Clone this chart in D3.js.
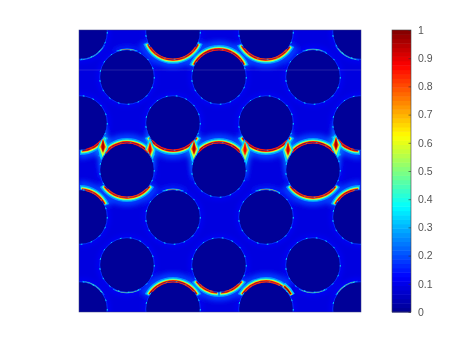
<!DOCTYPE html>
<html>
<head>
<meta charset="utf-8">
<script src="https://cdn.jsdelivr.net/npm/d3@7"></script>
<style>
  html, body { margin: 0; padding: 0; background: #fff; }
  svg { display: block; }
  text { font-family: "Liberation Sans", Arial, sans-serif; }
</style>
</head>
<body>
<div id="chart"></div>
<script>
// holes of the lattice, in field units (0-282 both ways)
let holeX = [1, 48, 94, 140, 187, 234, 281];
let holeY = [2, 47, 93, 140, 187, 235, 279];
let holeRadius = 27;
// which columns sit on each row
let rowCols = [[0, 2, 4, 6], [1, 3, 5], [0, 2, 4, 6], [1, 3, 5], [0, 2, 4, 6], [1, 3, 5], [0, 2, 4, 6]];

// strong arcs: column, row, start deg, end deg, peak (0 = up, clockwise)
let hotArcs = [
  [2, 0, 112, 248, 0.97], [4, 0, 118, 245, 0.97],
  [3, 1, -68, 68, 1],
  [0, 2, 118, 180, 1], [1, 3, -64, 62, 1], [2, 2, 118, 242, 1], [3, 3, -62, 62, 1],
  [4, 2, 118, 242, 1], [5, 3, -62, 62, 1], [6, 2, 180, 244, 1],
  [0, 4, 0, 66, 0.98], [1, 3, 122, 238, 0.97], [5, 3, 122, 238, 0.97], [6, 4, -66, 0, 0.98],
  [3, 5, 122, 180, 0.97], [3, 5, 180, 238, 0.97], [2, 6, -62, 62, 0.98], [4, 6, -62, 42, 0.98]
];
// weak, broken arcs along the hole rim
let weakArcs = [
  [0, 0, 118, 180, 0.5], [1, 1, -22, 22, 0.72], [5, 1, -22, 28, 0.55], [6, 0, 182, 240, 0.5],
  [2, 4, -22, 22, 0.72], [4, 4, -22, 30, 0.72], [0, 6, 5, 60, 0.5], [1, 5, 150, 210, 0.55],
  [5, 5, 150, 210, 0.55], [6, 6, -60, -5, 0.55]
];
// the kink on the bottom row: column, row, start, end, peak
let bumpArcs = [[4, 6, 36, 62, 0.97]];
// wedges where neighbouring hot arcs meet: x, y, peak
let cusps = [[24, 117, 0.95], [71, 120, 0.9], [115, 119, 0.95], [166, 120, 0.88], [209, 120, 0.92], [257, 115, 0.95]];

let colorbarTicks = [0, 0.1, 0.2, 0.3, 0.4, 0.5, 0.6, 0.7, 0.8, 0.9, 1];
let jetStops = [0, 0.125, 0.375, 0.625, 0.875, 1];
let jetColors = ["#00008f", "#0000ff", "#00ffff", "#ffff00", "#ff0000", "#800000"];
let colorLevels = 64;

let svgWidth = 474;
let svgHeight = 355;
let plot = { left: 79, right: 361, top: 30, bottom: 312 };
let bar = { left: 392, right: 411 };

let svg = d3.select("#chart").append("svg")
  .attr("width", svgWidth)
  .attr("height", svgHeight);

let x = d3.scaleLinear().domain([0, 282]).range([plot.left, plot.right]);
let y = d3.scaleLinear().domain([0, 282]).range([plot.top, plot.bottom]);
let jet = d3.scaleLinear().domain(jetStops).range(jetColors).clamp(true);
let barY = d3.scaleLinear().domain([0, 1]).range([plot.bottom, plot.top]);

let defs = svg.append("defs");
defs.append("clipPath").attr("id", "plotClip").append("rect")
  .attr("x", plot.left).attr("y", plot.top)
  .attr("width", plot.right - plot.left).attr("height", plot.bottom - plot.top);
defs.append("filter").attr("id", "soft").attr("x", "-20%").attr("y", "-20%").attr("width", "140%").attr("height", "140%")
  .append("feGaussianBlur").attr("stdDeviation", 2.4);
defs.append("filter").attr("id", "softer").attr("x", "-20%").attr("y", "-20%").attr("width", "140%").attr("height", "140%")
  .append("feGaussianBlur").attr("stdDeviation", 0.5);

let field = svg.append("g").attr("clip-path", "url(#plotClip)");
field.append("rect")
  .attr("x", plot.left).attr("y", plot.top)
  .attr("width", plot.right - plot.left).attr("height", plot.bottom - plot.top)
  .attr("fill", jet(0.09));

let holes = [];
rowCols.forEach((cols, r) => cols.forEach(c => holes.push({ c: c, r: r })));

function ring(item, inner, outer, pad) {
  let cx = x(holeX[item[0]]), cy = y(holeY[item[1]]);
  let r = x(holeRadius) - x(0);
  let path = d3.arc()({
    innerRadius: r + inner,
    outerRadius: r + outer,
    startAngle: (item[2] + pad) * Math.PI / 180,
    endAngle: (item[3] - pad) * Math.PI / 180
  });
  return { d: path, t: "translate(" + cx + "," + cy + ")" };
}

function drawRing(layer, items, inner, outer, pad, level) {
  layer.selectAll(null).data(items).enter().append("path")
    .attr("d", d => ring(d, inner, outer, pad).d)
    .attr("transform", d => ring(d, inner, outer, pad).t)
    .attr("fill", d => jet(d[4] * level));
}

function drawCusp(layer, rx, up, down, level) {
  // narrow wedge, pointy at both ends
  layer.selectAll(null).data(cusps).enter().append("path")
    .attr("d", d => {
      let cx = x(d[0]), cy = y(d[1]);
      return "M" + cx + "," + (cy - up) + "L" + (cx + rx) + "," + cy + "L" + cx + "," + (cy + down) + "L" + (cx - rx) + "," + cy + "Z";
    })
    .attr("fill", d => jet(d[2] * level));
}

// wide glow round the holes, blurred, holes get painted over it
let glow = field.append("g").attr("filter", "url(#soft)");
glow.selectAll(".halo").data(holes).enter().append("circle")
  .attr("class", "halo")
  .attr("cx", d => x(holeX[d.c])).attr("cy", d => y(holeY[d.r]))
  .attr("r", x(holeRadius) - x(0) + 1)
  .attr("fill", "none").attr("stroke", jet(0.13)).attr("stroke-width", 3);
let hot = hotArcs.filter(d => d[4] > 0);
drawRing(glow, hot, 0, 9, -2, 0.19);
drawRing(glow, weakArcs, 0, 4, -3, 0.22);
drawCusp(glow, 7, 24, 30, 0.26);

let sharp = field.append("g").attr("filter", "url(#softer)");
drawRing(sharp, hot, 0, 5, 0, 0.28);
drawRing(sharp, hot, 0, 3.6, 2, 0.42);
drawRing(sharp, hot, 0, 2.6, 3, 0.62);
drawRing(sharp, hot, 0, 1.9, 4, 0.85);
drawRing(sharp, hot, 0, 1.1, 5, 1);
drawRing(sharp, bumpArcs, 0, 5.5, 0, 0.33);
drawRing(sharp, bumpArcs, 0.8, 3.6, 1, 0.7);
drawRing(sharp, bumpArcs, 1.2, 2.8, 3, 1);
drawRing(sharp, weakArcs, 0, 1.4, 0, 0.45);
drawRing(sharp, weakArcs, 0, 0.9, 6, 0.95);

drawCusp(sharp, 5.5, 13, 20, 0.36);
drawCusp(sharp, 4, 9, 11, 0.6);
drawCusp(sharp, 2.6, 8, 6, 0.85);
drawCusp(sharp, 1.5, 8, 5, 1);

// holes themselves, with the broken pale rim
let holeLayer = field.append("g").attr("filter", "url(#softer)");
holeLayer.selectAll(".hole").data(holes).enter().append("circle")
  .attr("class", "hole")
  .attr("cx", d => x(holeX[d.c])).attr("cy", d => y(holeY[d.r]))
  .attr("r", x(holeRadius) - x(0))
  .attr("fill", jet(0.01));
holeLayer.selectAll(".rim").data(holes).enter().append("circle")
  .attr("class", "rim")
  .attr("cx", d => x(holeX[d.c])).attr("cy", d => y(holeY[d.r]))
  .attr("r", x(holeRadius) - x(0) + 0.3)
  .attr("fill", "none").attr("stroke", jet(0.18)).attr("stroke-width", 0.8);
holeLayer.selectAll(".rimDots").data(holes).enter().append("circle")
  .attr("class", "rimDots")
  .attr("cx", d => x(holeX[d.c])).attr("cy", d => y(holeY[d.r]))
  .attr("r", x(holeRadius) - x(0) + 0.3)
  .attr("fill", "none").attr("stroke", jet(0.36)).attr("stroke-width", 1)
  .attr("stroke-dasharray", "1.6 8.5");
drawRing(holeLayer, hot, -0.5, 0.6, 12, 0.85);

// faint scan line across the field
field.append("line")
  .attr("x1", plot.left).attr("x2", plot.right)
  .attr("y1", y(40)).attr("y2", y(40))
  .attr("stroke", "#9aa0d0").attr("stroke-opacity", 0.22);

svg.append("rect")
  .attr("x", plot.left).attr("y", plot.top)
  .attr("width", plot.right - plot.left).attr("height", plot.bottom - plot.top)
  .attr("fill", "none").attr("stroke", "#3a3f80").attr("stroke-width", 0.5);

// colorbar, stepped like the colormap
let levels = d3.range(colorLevels);
svg.append("g").selectAll("rect").data(levels).enter().append("rect")
  .attr("x", bar.left)
  .attr("width", bar.right - bar.left)
  .attr("y", d => barY((d + 1) / colorLevels))
  .attr("height", (plot.bottom - plot.top) / colorLevels + 0.5)
  .attr("fill", d => jet((d + 0.5) / colorLevels));

svg.append("rect")
  .attr("x", bar.left).attr("y", plot.top)
  .attr("width", bar.right - bar.left).attr("height", plot.bottom - plot.top)
  .attr("fill", "none").attr("stroke", "#444").attr("stroke-width", 0.6);

let barAxis = d3.axisRight(barY).tickValues(colorbarTicks).tickFormat(d3.format("~g")).tickSize(-2.5).tickPadding(7);
let barAxisG = svg.append("g").attr("transform", "translate(" + bar.right + ",0)").call(barAxis);
barAxisG.select(".domain").remove();
barAxisG.selectAll("line").attr("stroke", "#333").attr("stroke-width", 0.6);
barAxisG.selectAll("text").attr("fill", "#555").attr("font-size", 10.5);
</script>
</body>
</html>
